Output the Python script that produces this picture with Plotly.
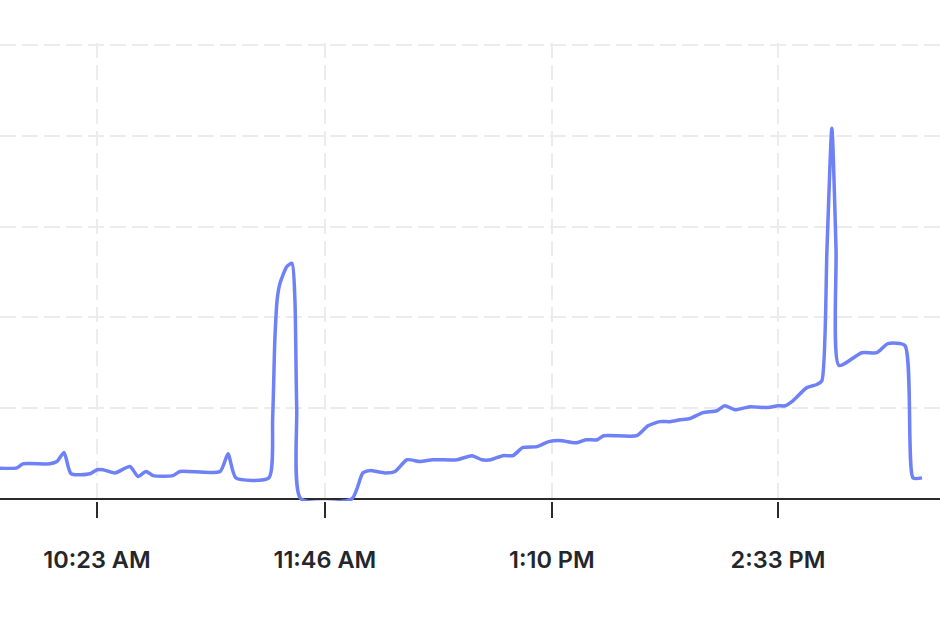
import plotly.graph_objects as go
import pandas as pd

day = "2024-01-01 "
times = [
    "09:45:00", "09:53:36", "09:55:48", "10:05:42", "10:08:18", "10:10:54", "10:13:30",
    "10:20:24", "10:23:00", "10:25:12", "10:29:36", "10:35:06", "10:38:06", "10:41:00",
    "10:43:36", "10:50:54", "10:53:30", "11:08:12", "11:11:06", "11:14:00", "11:26:06",
    "11:27:30", "11:28:18", "11:29:10", "11:30:12", "11:32:42", "11:34:36", "11:35:40",
    "11:36:20", "11:37:50", "11:56:36", "12:00:36", "12:03:12", "12:08:42", "12:12:24",
    "12:16:48", "12:21:36", "12:26:18", "12:35:12", "12:40:42", "12:44:18", "12:47:36",
    "12:52:00", "12:55:42", "12:59:24", "13:04:30", "13:08:54", "13:13:42", "13:17:24",
    "13:19:36", "13:22:30", "13:26:36", "13:29:06", "13:41:12", "13:45:18", "13:49:42",
    "13:53:24", "13:57:00", "14:00:42", "14:05:30", "14:10:36", "14:13:30", "14:17:12",
    "14:22:42", "14:29:18", "14:33:00", "14:35:36", "14:38:30", "14:43:36", "14:47:18",
    "14:49:06", "14:51:00", "14:52:48", "14:54:20", "14:55:24", "15:03:48", "15:09:18",
    "15:13:24", "15:19:36", "15:22:36", "15:25:54",
]
values = [
    6.8, 6.8, 7.7, 7.7, 8.2, 10.2, 5.5,
    5.5, 6.4, 6.4, 5.7, 7.1, 4.9, 6.0,
    5.1, 5.1, 6.0, 6.0, 9.9, 4.6, 4.6,
    17.8, 35.0, 44.0, 47.5, 51.2, 51.9, 44.0,
    20.0, 0.0, 0.0, 5.7, 6.2, 5.7, 6.0,
    8.6, 8.2, 8.6, 8.6, 9.5, 8.6, 8.6,
    9.5, 9.5, 11.3, 11.5, 12.6, 12.8, 12.4,
    12.4, 13.0, 13.0, 13.9, 13.9, 16.1, 17.0,
    17.0, 17.4, 17.7, 19.0, 19.4, 20.5, 19.6,
    20.3, 20.1, 20.5, 20.5, 21.6, 24.5, 25.2,
    26.0, 55.0, 81.7, 55.0, 29.4, 32.2, 32.2,
    34.2, 33.8, 4.6, 4.6,
]

tick_times = ["10:23:00", "11:46:40", "13:10:00", "14:33:00"]
tick_labels = ["10:23 AM", "11:46 AM", "1:10 PM", "2:33 PM"]

x = pd.to_datetime([day + t for t in times])

fig = go.Figure(go.Scatter(
    x=x, y=values, mode="lines",
    line=dict(color="#6f81f7", width=3.5, shape="spline", smoothing=0.6),
    hoverinfo="skip",
))

fig.update_layout(
    width=940, height=618,
    margin=dict(l=0, r=0, t=43, b=117),
    paper_bgcolor="white", plot_bgcolor="white",
    showlegend=False,
    font=dict(family="Inter", color="#23262b"),
)
fig.update_xaxes(
    range=[day + "09:47:24", day + "15:32:30"],
    tickvals=[day + t for t in tick_times],
    ticktext=tick_labels,
    tickfont=dict(size=23.5, family="Inter", weight=600, color="#23262b"),
    ticks="outside", ticklen=16, tickwidth=2, tickcolor="#2b2b2b",
    ticklabelstandoff=22,
    showgrid=True, gridcolor="#ececec", gridwidth=2, griddash="15px,7px",
    showline=False, zeroline=False, layer="below traces",
)
fig.update_yaxes(
    range=[-0.5, 100.5], tickvals=[0, 20, 40, 60, 80, 100],
    showticklabels=False,
    showgrid=True, gridcolor="#ececec", gridwidth=2, griddash="16px,6px",
    zeroline=True, zerolinecolor="#2b2b2b", zerolinewidth=2,
    showline=False, layer="below traces",
)

fig.write_html("out.html")
